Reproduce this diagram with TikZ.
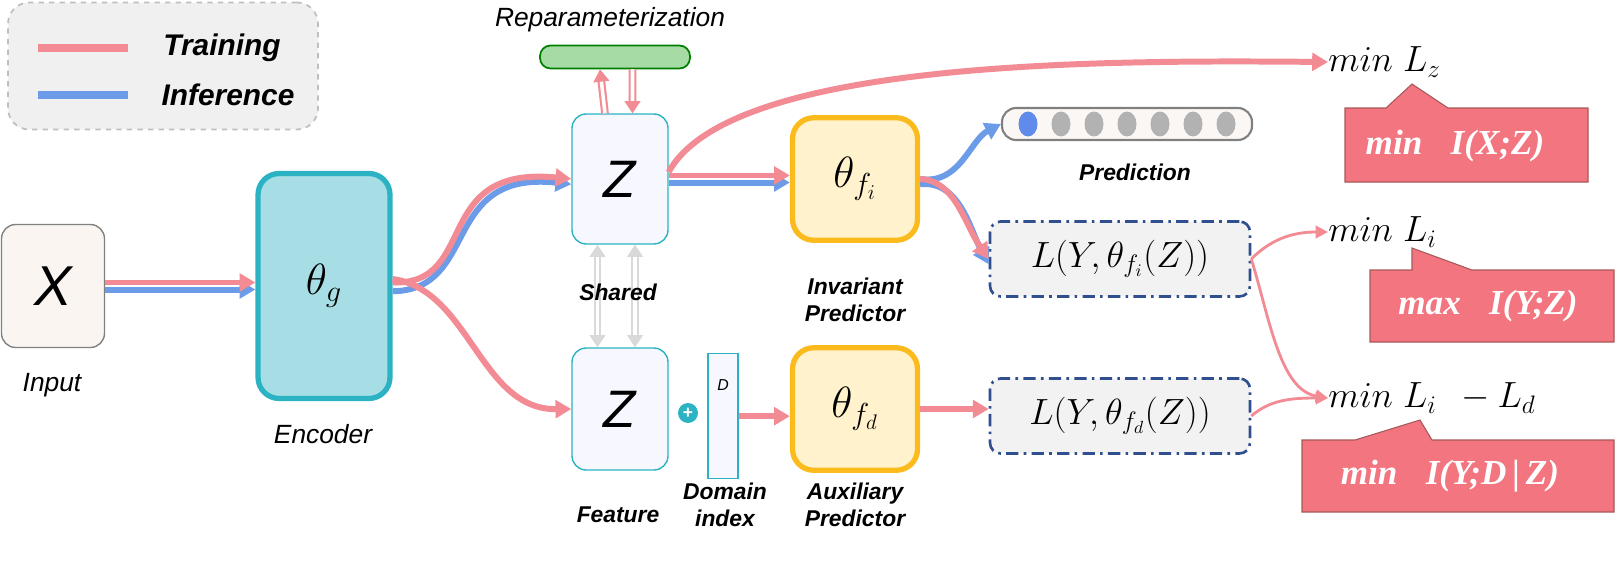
\documentclass[tikz,border=0pt]{standalone}
\usepackage{fontspec}
\setmainfont{Liberation Sans}
\newfontfamily\calloutfont{Liberation Serif}
\usetikzlibrary{arrows.meta,positioning,shapes.geometric}
\definecolor{trncol}{HTML}{F28B93}
\definecolor{infcol}{HTML}{6C9BE8}
\definecolor{enccol}{HTML}{A7DEE5}
\definecolor{encdraw}{HTML}{2BB3C4}
\definecolor{predcol}{HTML}{FFF2CC}
\definecolor{preddraw}{HTML}{FBBB1D}
\definecolor{calloutcol}{HTML}{F27580}
\definecolor{lossdraw}{HTML}{2F4F8F}
\begin{document}
\begin{tikzpicture}[x=0.02cm,y=-0.02cm,>={Triangle[length=9pt,width=10pt]},
  trn/.style={->,draw=trncol,line width=3.4pt},
  inf/.style={->,draw=infcol,line width=3.4pt},
  thin trn/.style={->,draw=trncol,line width=1.6pt,>={Triangle[length=7pt,width=7pt]}},
  feat node/.style={rectangle,rounded corners=8pt,draw=encdraw,fill=blue!3,line width=0.8pt,
    minimum width=1.92cm,minimum height=2.6cm,font=\fontsize{30}{30}\selectfont\itshape},
  pred node/.style={rectangle,rounded corners=12pt,draw=preddraw,fill=predcol,line width=3pt,
    minimum width=2.5cm,minimum height=2.45cm,font=\fontsize{24}{24}\selectfont},
  loss node/.style={rectangle,rounded corners=6pt,draw=lossdraw,fill=gray!10,line width=1.5pt,
    dash pattern=on 7pt off 3pt on 1.5pt off 3pt,minimum width=5.2cm,minimum height=1.5cm,
    font=\fontsize{20}{20}\selectfont},
  caption/.style={font=\fontsize{13}{15}\selectfont\bfseries\itshape,align=center},
  plain caption/.style={font=\fontsize{15}{17}\selectfont\itshape,align=center},
  goal/.style={font=\fontsize{22}{22}\selectfont,anchor=west,inner sep=0pt},
  callout/.style={draw=gray!70!red,fill=calloutcol,line width=0.6pt},
  callout text/.style={text=white,font=\fontsize{20}{20}\selectfont\calloutfont\bfseries\itshape}]
\useasboundingbox (0,0) rectangle (1617,561);

% legend
\node[draw=gray!50,dashed,rounded corners=12pt,fill=gray!12,line width=1pt,
  minimum width=6.2cm,minimum height=2.54cm] (legend) at (163,66) {};
\coordinate (trnA) at (38,48); \coordinate (trnB) at (128,48);
\coordinate (infA) at (38,95); \coordinate (infB) at (128,95);
\draw[draw=trncol,line width=4pt] (trnA) -- (trnB);
\draw[draw=infcol,line width=4pt] (infA) -- (infB);
\node[font=\fontsize{17}{17}\selectfont\bfseries\itshape] (trnlbl) at (222,48) {Training};
\node[font=\fontsize{17}{17}\selectfont\bfseries\itshape] (inflbl) at (228,95) {Inference};

% nodes
\node[rectangle,rounded corners=8pt,draw=gray,fill=brown!8,line width=0.8pt,minimum width=2.06cm,
  minimum height=2.46cm,font=\fontsize{32}{32}\selectfont\itshape] (x) at (53,286) {X};
\node[rectangle,rounded corners=12pt,draw=encdraw,fill=enccol,line width=3pt,minimum width=2.64cm,
  minimum height=4.5cm,font=\fontsize{24}{24}\selectfont] (enc) at (324,286) {$\theta_g$};
\node[feat node] (zs) at (620,179) {Z};
\node[feat node,minimum height=2.44cm] (zf) at (620,409) {Z};
\node[rectangle,draw=encdraw,fill=blue!3,line width=0.8pt,minimum width=0.6cm,minimum height=2.5cm,
  font=\small\itshape,anchor=north] (d) at (723,353) {};
\node[font=\small\itshape] (dlbl) at (723,385) {D};
\node[circle,fill=encdraw,inner sep=0pt,minimum size=0.4cm,text=white,font=\bfseries] (plus) at (688,413) {+};
\node[rectangle,rounded corners=6pt,draw=green!50!black,fill=green!60!black!35,line width=1pt,
  minimum width=3cm,minimum height=0.46cm] (rep) at (615,57) {};
\node[pred node] (fi) at (855,179) {$\theta_{f_i}$};
\node[pred node] (fd) at (855,409) {$\theta_{f_d}$};

% prediction
\node[rectangle,rounded corners=8pt,draw=gray,fill=brown!6,line width=1.2pt,
  minimum width=5cm,minimum height=0.64cm] (pv) at (1127,124) {};
\foreach \i in {1,...,6}
  \node[ellipse,fill=gray!60,minimum width=0.38cm,minimum height=0.5cm,inner sep=0pt] at (1028+\i*33,124) {};
\node[ellipse,fill=infcol!90!blue,minimum width=0.38cm,minimum height=0.5cm,inner sep=0pt] (p1) at (1028,124) {};

% losses
\node[loss node] (li) at (1120,259) {$L(Y,\theta_{f_i}(Z))$};
\node[loss node] (ld) at (1120,416) {$L(Y,\theta_{f_d}(Z))$};

% goals and callouts
\node[goal] (gz) at (1328,62) {$min\;L_z$};
\node[goal] (gi) at (1328,232) {$min\;L_i$};
\node[goal] (gd) at (1328,398) {$min\;L_i\;\,-L_d$};
\draw[callout] (1345,108) -- (1386,108) -- (1412,84) -- (1448,108) -- (1588,108)
  -- (1588,182) -- (1345,182) -- cycle;
\node[callout text] (cz) at (1455,146) {min\;\; I(X;Z)};
\draw[callout] (1370,270) -- (1412,270) -- (1412,248) -- (1472,270) -- (1614,270)
  -- (1614,342) -- (1370,342) -- cycle;
\node[callout text] (ci) at (1488,306) {max\;\; I(Y;Z)};
\draw[callout] (1302,440) -- (1355,440) -- (1420,420) -- (1432,440) -- (1614,440)
  -- (1614,512) -- (1302,512) -- cycle;
\node[callout text] (cd) at (1450,476) {min\;\; I(Y;D\,|\,Z)};

% connectors
\draw[inf] ([yshift=-2pt]x.east) -- ([yshift=-2pt]enc.west);
\draw[trn] ([yshift=2pt]x.east) -- ([yshift=2pt]enc.west);
\draw[inf] ([yshift=-3pt]enc.east) .. controls (480,290) and (440,170) .. ([yshift=-3pt]zs.west);
\draw[trn] ([yshift=2pt]enc.east) .. controls (480,285) and (430,165) .. (zs.west);
\draw[trn] ([yshift=4pt]enc.east) .. controls (470,290) and (480,410) .. (zf.west);
\draw[inf] ([yshift=-2pt]zs.east) -- ([yshift=-2pt]fi.west);
\draw[trn] ([yshift=2pt]zs.east) -- ([yshift=2pt]fi.west);
\draw[trn] ([yshift=4pt]zs.east) .. controls (730,60) and (1100,60) .. (gz.west);
\draw[inf] (fi.east) .. controls (960,185) and (970,140) .. (pv.west);
\draw[inf] ([yshift=-3pt]fi.east) .. controls (960,180) and (970,230) .. ([yshift=-3pt]li.west);
\draw[trn] (fi.east) .. controls (955,180) and (965,225) .. (li.west);
\draw[trn] (d.east) -- (d.east -| fd.west);
\draw[trn] (fd.east) -- (fd.east -| ld.west);
\draw[thin trn] (li.east) .. controls (1275,235) and (1300,232) .. (gi.west);
\draw[thin trn] (li.east) .. controls (1270,320) and (1280,390) .. (gd.west);
\draw[thin trn] (ld.east) .. controls (1270,400) and (1290,398) .. (gd.west);
\draw[->,double=white,draw=trncol,line width=1.2pt,double distance=2pt,>={Triangle[length=7pt,width=9pt]}]
  ([xshift=-0.3cm]zs.north) -- ([xshift=-0.3cm]rep.south);
\draw[->,double=white,draw=trncol,line width=1.2pt,double distance=2pt,>={Triangle[length=7pt,width=9pt]}]
  ([xshift=0.35cm]rep.south) -- ([xshift=0.25cm]zs.north);
\draw[<->,double=white,draw=gray!30,line width=1.2pt,double distance=2pt,>={Triangle[length=7pt,width=9pt]}]
  ([xshift=-0.45cm]zs.south) -- ([xshift=-0.45cm]zf.north);
\draw[<->,double=white,draw=gray!30,line width=1.2pt,double distance=2pt,>={Triangle[length=7pt,width=9pt]}]
  ([xshift=0.3cm]zs.south) -- ([xshift=0.3cm]zf.north);

% captions
\node[plain caption] (xlbl) at (52,385) {Input};
\node[plain caption] (enclbl) at (323,434) {Encoder};
\node[plain caption] (replbl) at (610,20) {Reparameterization};
\node[caption] (shlbl) at (618,292) {Shared};
\node[caption] (felbl) at (618,515) {Feature};
\node[caption] (dilbl) at (725,505) {Domain\\index};
\node[caption] (filbl) at (855,300) {Invariant\\Predictor};
\node[caption] (fdlbl) at (855,505) {Auxiliary\\Predictor};
\node[caption] (pvlbl) at (1135,172) {Prediction};
\end{tikzpicture}
\end{document}
